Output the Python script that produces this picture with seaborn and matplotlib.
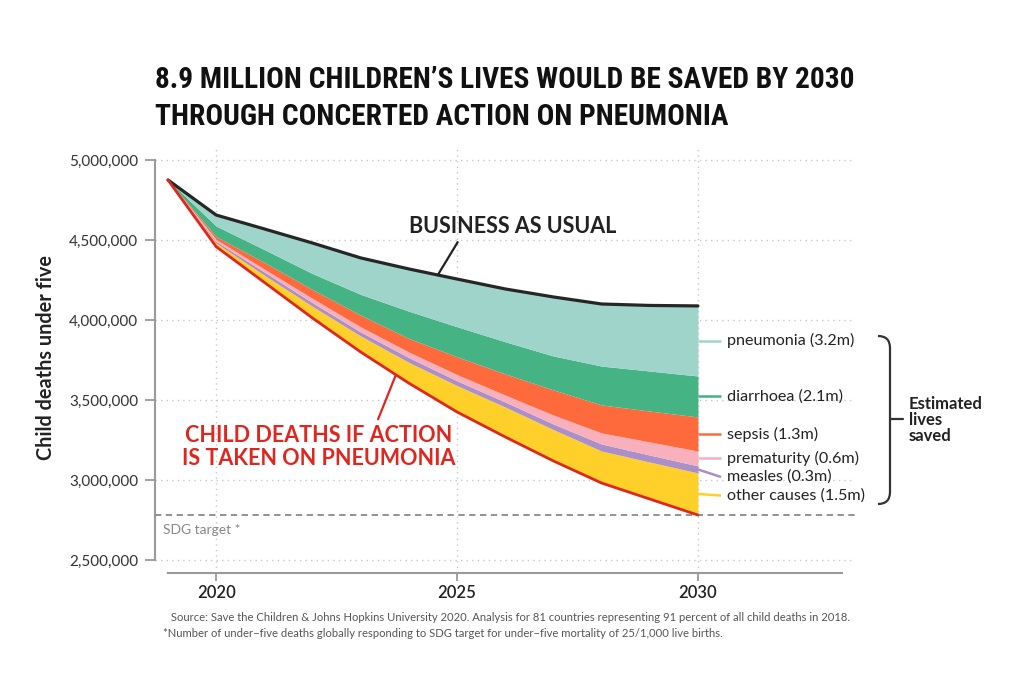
import matplotlib
matplotlib.use("Agg")
import matplotlib.pyplot as plt
from matplotlib import font_manager
from matplotlib.path import Path
from matplotlib.patches import PathPatch
import seaborn as sns
import pandas as pd
import numpy as np

# ---------------- data ----------------
years = [2019, 2020, 2021, 2022, 2023, 2024, 2025, 2026, 2027, 2028, 2029, 2030]
action_deaths = [4875000, 4458000, 4235000, 4012000, 3800000, 3605000,
                 3425000, 3269000, 3119000, 2981000, 2881000, 2781000]
saved_other = [0, 23000, 45000, 73000, 100000, 130000, 165000, 187000, 196000, 200000, 231000, 263000]
saved_measles = [0, 10000, 20000, 23000, 25000, 30000, 30000, 31000, 35000, 44000, 44000, 44000]
saved_prematurity = [0, 12000, 18000, 27000, 32000, 35000, 39000, 44000, 56000, 69000, 82000, 93000]
saved_sepsis = [0, 18000, 42000, 55000, 73000, 85000, 111000, 132000, 157000, 175000, 193000, 213000]
saved_diarrhoea = [0, 66000, 80000, 100000, 130000, 170000, 188000, 201000, 212000, 243000, 250000, 256000]
saved_pneumonia = [0, 69000, 129000, 191000, 228000, 264000, 298000, 330000, 369000, 388000, 410000, 438000]

cause_names = ["other causes", "measles", "prematurity", "sepsis", "diarrhoea", "pneumonia"]
cause_totals = ["1.5m", "0.3m", "0.6m", "1.3m", "2.1m", "3.2m"]
sdg_target = 2781000
y_ticks = [2500000, 3000000, 3500000, 4000000, 4500000, 5000000]
x_ticks = [2020, 2025, 2030]

title_lines = ["8.9 MILLION CHILDREN\u2019S LIVES WOULD BE SAVED BY 2030",
               "THROUGH CONCERTED ACTION ON PNEUMONIA"]
source_lines = [" Source: Save the Children & Johns Hopkins University 2020. Analysis for 81 countries representing 91 percent of all child deaths in 2018.",
                "*Number of under\u2212five deaths globally responding to SDG target for under\u2212five mortality of 25/1,000 live births."]

# ---------------- style ----------------
colors = ["#ffd02a", "#ab8fc8", "#f7b0bc", "#ff6a3d", "#45b383", "#9fd4ca"]
RED = "#e0261f"
DARK = "#222222"
GREY = "#9a9a9a"

sns.set_theme(style="white")
avail = {f.name for f in font_manager.fontManager.ttflist}
body = "Lato" if "Lato" in avail else "DejaVu Sans"
title_font = "DejaVu Sans"
for cand in ["Roboto Condensed", "Liberation Sans Narrow", "DejaVu Sans"]:
    if cand in avail:
        title_font = cand
        break
plt.rcParams["font.family"] = [body, "DejaVu Sans"]

df = pd.DataFrame({"year": years, "action": action_deaths})
layers = [saved_other, saved_measles, saved_prematurity, saved_sepsis, saved_diarrhoea, saved_pneumonia]
cum = np.array(action_deaths, dtype=float)
bounds = [cum.copy()]
for lay in layers:
    cum = cum + np.array(lay, dtype=float)
    bounds.append(cum.copy())
df["bau"] = bounds[-1]

W, H = 1024, 682
fig = plt.figure(figsize=(W / 100, H / 100), dpi=100)
ax_l, ax_r, ax_t, ax_b = 155, 855, 148, 573
ax = fig.add_axes([ax_l / W, 1 - ax_b / H, (ax_r - ax_l) / W, (ax_b - ax_t) / H])

def fx(px):
    return px / W

def fy(py):
    return 1 - py / H

# stacked areas
for i, col in enumerate(colors):
    ax.fill_between(df["year"], bounds[i], bounds[i + 1], color=col, lw=0, zorder=2)

sns.lineplot(data=df, x="year", y="bau", color="#262626", lw=2.3, ax=ax, zorder=4)
sns.lineplot(data=df, x="year", y="action", color=RED, lw=2.0, ax=ax, zorder=4)

ax.axhline(sdg_target, color="#8a8a8a", lw=1.3, ls=(0, (3.5, 2.5)), zorder=3)

ax.set_xlim(2018.73, 2033.26)
ax.set_ylim(2418750, 5075000)
ax.set_xticks(x_ticks)
ax.set_yticks(y_ticks)
ax.set_yticklabels([f"{v:,}" for v in y_ticks])
ax.grid(True, color="#c8c8c8", ls=(0, (1, 3)), lw=1.0, zorder=0)
ax.set_axisbelow(True)

for s in ["top", "right"]:
    ax.spines[s].set_visible(False)
ax.spines["left"].set_bounds(2500000, 5000000)
ax.spines["bottom"].set_bounds(2019.0, 2033.0)
for s in ["left", "bottom"]:
    ax.spines[s].set_color(GREY)
    ax.spines[s].set_linewidth(1.5)
ax.tick_params(axis="y", direction="out", length=7, width=1.3, color=GREY,
               labelsize=11, labelcolor="#333333", pad=5, left=True)
ax.tick_params(axis="x", direction="out", length=6, width=1.3, color=GREY,
               labelsize=12, labelcolor=DARK, pad=3, bottom=True)
for lbl in ax.get_xticklabels():
    lbl.set_fontweight("semibold")
ax.set_xlabel("")
ax.set_ylabel("Child deaths under five", fontsize=14.3, fontweight="bold", color=DARK)
ax.yaxis.set_label_coords((56 - ax_l) / (ax_r - ax_l), (ax_b - 357) / (ax_b - ax_t))

# SDG label
ax.text(2018.9, sdg_target - 55000, "SDG target *", fontsize=10, color="#888888",
        ha="left", va="top")

# annotations
yrs = np.array(years, dtype=float)
bau_x = 2024.6
ax.annotate("BUSINESS AS USUAL", xy=(bau_x, np.interp(bau_x, yrs, df["bau"])),
            xytext=(2026.16, 4587500), ha="center", va="center",
            fontsize=15.5, fontweight="bold", color=DARK,
            arrowprops=dict(arrowstyle="-", color=DARK, lw=1.6, relpos=(0.25, 0.0),
                            shrinkA=2, shrinkB=0), zorder=6)
act_x = 2023.73
ax.annotate("CHILD DEATHS IF ACTION\nIS TAKEN ON PNEUMONIA",
            xy=(act_x, np.interp(act_x, yrs, df["action"])),
            xytext=(2022.12, 3206250), ha="center", va="center", linespacing=1.1,
            fontsize=15.5, fontweight="bold", color=RED,
            arrowprops=dict(arrowstyle="-", color=RED, lw=1.6, relpos=(0.71, 1.0),
                            shrinkA=2, shrinkB=0), zorder=6)

# right-hand labels
mids = [(bounds[i][-1] + bounds[i + 1][-1]) / 2 for i in range(len(layers))]
unit = (ax.get_ylim()[1] - ax.get_ylim()[0]) / (ax_b - ax_t)
min_gap = 18.5 * unit
label_y = list(mids)
order = list(range(len(label_y) - 1, -1, -1))
for a, b in zip(order[:-1], order[1:]):
    if label_y[a] - label_y[b] < min_gap:
        label_y[b] = label_y[a] - min_gap
x_end = years[-1]
for i in range(len(layers)):
    ax.plot([x_end, x_end + 0.48], [mids[i], label_y[i]], color=colors[i], lw=1.8,
            clip_on=False, zorder=5, solid_capstyle="butt")
    ax.text(x_end + 0.6, label_y[i], f"{cause_names[i]} ({cause_totals[i]})",
            fontsize=11.6, color=DARK, ha="left", va="center")

# bracket
bx0, bx1, by0, by1, bym = 878, 890, 336, 504, 419
verts = [(bx0, by0), (bx1, by0), (bx1, by0 + 12), (bx1, by1 - 12), (bx1, by1), (bx0, by1)]
codes = [Path.MOVETO, Path.CURVE3, Path.CURVE3, Path.LINETO, Path.CURVE3, Path.CURVE3]
verts_f = [(fx(x), fy(y)) for x, y in verts]
fig.patches.append(PathPatch(Path(verts_f, codes), transform=fig.transFigure,
                             fill=False, ec="#333333", lw=1.6))
fig.add_artist(plt.Line2D([fx(bx1), fx(903)], [fy(bym), fy(bym)], color="#333333",
                          lw=1.6, transform=fig.transFigure))
fig.text(fx(909), fy(bym + 1), "Estimated\nlives\nsaved", fontsize=12, fontweight="bold",
         color=DARK, ha="left", va="center", linespacing=1.03)

# title
for k, line in enumerate(title_lines):
    fig.text(fx(155), fy(88 + 37 * k), line, fontsize=21.2, fontweight="bold",
             family=[title_font, "DejaVu Sans"], color="#111111", ha="left", va="baseline")

# source
fig.text(fx(168), fy(621), source_lines[0], fontsize=8.1, color="#555555", ha="left", va="baseline")
fig.text(fx(163), fy(637), source_lines[1], fontsize=8.1, color="#555555", ha="left", va="baseline")

fig.savefig("out.png", dpi=100, facecolor="white")
